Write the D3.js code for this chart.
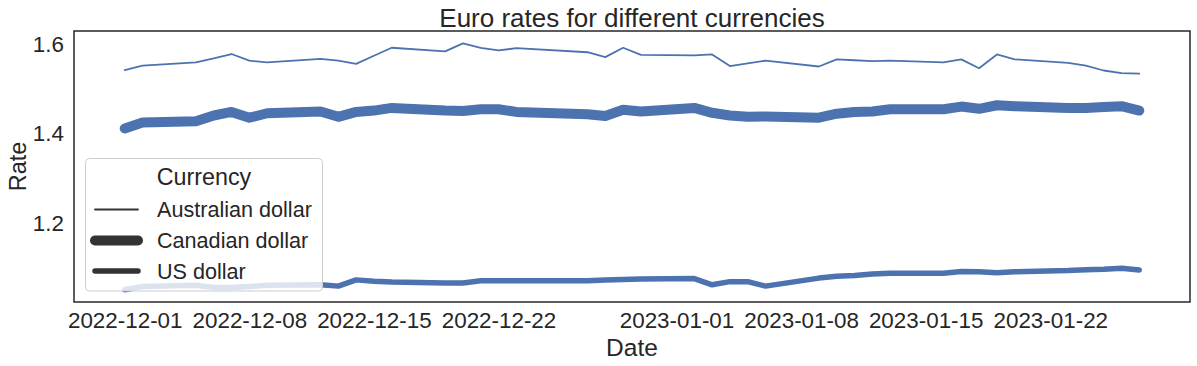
<!DOCTYPE html>
<html>
<head>
<meta charset="utf-8">
<script src="https://cdn.jsdelivr.net/npm/d3@7"></script>
<style>
  body { margin: 0; background: #fff; }
  text { font-family: "Liberation Sans", Arial, sans-serif; fill: #262626; }
</style>
</head>
<body>
<svg id="chart" width="1197" height="366"></svg>
<script>
// ECB business days, 2022-12-01 .. 2023-01-27
const dates = [
  "2022-12-01","2022-12-02","2022-12-05","2022-12-06","2022-12-07","2022-12-08","2022-12-09",
  "2022-12-12","2022-12-13","2022-12-14","2022-12-15","2022-12-16",
  "2022-12-19","2022-12-20","2022-12-21","2022-12-22","2022-12-23",
  "2022-12-27","2022-12-28","2022-12-29","2022-12-30",
  "2023-01-02","2023-01-03","2023-01-04","2023-01-05","2023-01-06",
  "2023-01-09","2023-01-10","2023-01-11","2023-01-12","2023-01-13",
  "2023-01-16","2023-01-17","2023-01-18","2023-01-19","2023-01-20",
  "2023-01-23","2023-01-24","2023-01-25","2023-01-26","2023-01-27"
];

const audRates = [
  1.543, 1.553, 1.560, 1.569, 1.579, 1.564, 1.560,
  1.568, 1.564, 1.557, 1.575, 1.593,
  1.585, 1.603, 1.593, 1.587, 1.592,
  1.583, 1.572, 1.593, 1.577,
  1.576, 1.578, 1.552, 1.558, 1.564,
  1.551, 1.567, 1.565, 1.563, 1.564,
  1.560, 1.567, 1.547, 1.578, 1.567,
  1.559, 1.553, 1.542, 1.536, 1.535
];

const cadRates = [
  1.412, 1.425, 1.428, 1.441, 1.449, 1.436, 1.446,
  1.450, 1.438, 1.449, 1.452, 1.458,
  1.452, 1.451, 1.455, 1.455, 1.449,
  1.444, 1.440, 1.454, 1.450,
  1.458, 1.447, 1.441, 1.438, 1.439,
  1.436, 1.445, 1.449, 1.450, 1.455,
  1.455, 1.461, 1.456, 1.464, 1.462,
  1.458, 1.458, 1.460, 1.462, 1.452
];

const usdRates = [
  1.050, 1.057, 1.060, 1.055, 1.055, 1.057, 1.060,
  1.061, 1.058, 1.072, 1.069, 1.067,
  1.065, 1.065, 1.070, 1.070, 1.070,
  1.070, 1.072, 1.073, 1.074,
  1.075, 1.061, 1.068, 1.068, 1.058,
  1.076, 1.080, 1.082, 1.085, 1.087,
  1.087, 1.091, 1.090, 1.088, 1.090,
  1.093, 1.095, 1.096, 1.098, 1.094
];

const currencies = ["Australian dollar", "Canadian dollar", "US dollar"];
const lineWidths = [1.8, 10, 5.5];
const xTickLabels = ["2022-12-01","2022-12-08","2022-12-15","2022-12-22",
                     "2023-01-01","2023-01-08","2023-01-15","2023-01-22"];
const yTickValues = [1.2, 1.4, 1.6];

const svg = d3.select("#chart");
const parse = d3.utcParse("%Y-%m-%d");
const plot = { left: 74, right: 1190, top: 31, bottom: 302 };
const lineColor = "#4c72b0";

const series = [audRates, cadRates, usdRates].map((vals, i) => ({
  name: currencies[i],
  width: lineWidths[i],
  points: vals.map((v, j) => ({ date: parse(dates[j]), value: v }))
}));

// matplotlib style 5% margins
const allDates = dates.map(parse);
const allVals = [].concat(audRates, cadRates, usdRates);
const [t0, t1] = d3.extent(allDates);
const tPad = (t1 - t0) * 0.05;
const [v0, v1] = d3.extent(allVals);
const vPad = (v1 - v0) * 0.05;

const x = d3.scaleUtc()
  .domain([new Date(+t0 - tPad), new Date(+t1 + tPad)])
  .range([plot.left, plot.right]);
const y = d3.scaleLinear()
  .domain([v0 - vPad, v1 + vPad])
  .range([plot.bottom, plot.top]);

// axes (no tick marks, seaborn white style)
const xAxis = svg.append("g")
  .attr("transform", `translate(0,${plot.bottom})`)
  .call(d3.axisBottom(x)
    .tickValues(xTickLabels.map(parse))
    .tickSize(0)
    .tickPadding(10)
    .tickFormat(d3.utcFormat("%Y-%m-%d")));
xAxis.select(".domain").remove();
xAxis.selectAll("text").attr("font-size", 22.4).attr("fill", "#262626");

const yAxis = svg.append("g")
  .attr("transform", `translate(${plot.left},0)`)
  .call(d3.axisLeft(y)
    .tickValues(yTickValues)
    .tickSize(0)
    .tickPadding(10)
    .tickFormat(d3.format(".1f")));
yAxis.select(".domain").remove();
yAxis.selectAll("text").attr("font-size", 22.4).attr("fill", "#262626");

svg.selectAll(".tick text").attr("font-family", "Liberation Sans, Arial, sans-serif");

// lines
const line = d3.line()
  .x(d => x(d.date))
  .y(d => y(d.value));

svg.append("g")
  .selectAll("path")
  .data(series)
  .enter()
  .append("path")
  .attr("d", d => line(d.points))
  .attr("fill", "none")
  .attr("stroke", lineColor)
  .attr("stroke-width", d => d.width)
  .attr("stroke-linecap", "round")
  .attr("stroke-linejoin", "round");

// frame
svg.append("rect")
  .attr("x", plot.left)
  .attr("y", plot.top)
  .attr("width", plot.right - plot.left)
  .attr("height", plot.bottom - plot.top)
  .attr("fill", "none")
  .attr("stroke", "#262626")
  .attr("stroke-width", 1.5);

// titles
svg.append("text")
  .attr("x", (plot.left + plot.right) / 2)
  .attr("y", 27)
  .attr("text-anchor", "middle")
  .attr("font-size", 26)
  .text("Euro rates for different currencies");

svg.append("text")
  .attr("x", (plot.left + plot.right) / 2)
  .attr("y", 356)
  .attr("text-anchor", "middle")
  .attr("font-size", 24.5)
  .text("Date");

svg.append("text")
  .attr("transform", `translate(26,${(plot.top + plot.bottom) / 2}) rotate(-90)`)
  .attr("text-anchor", "middle")
  .attr("font-size", 23.5)
  .text("Rate");

// legend
const legend = svg.append("g");
legend.append("rect")
  .attr("x", 85.5)
  .attr("y", 158.5)
  .attr("width", 237)
  .attr("height", 132.5)
  .attr("rx", 4)
  .attr("fill", "#fff")
  .attr("fill-opacity", 0.8)
  .attr("stroke", "#cccccc")
  .attr("stroke-width", 1);

legend.append("text")
  .attr("x", 204)
  .attr("y", 185)
  .attr("text-anchor", "middle")
  .attr("font-size", 23.3)
  .text("Currency");

const rowY = [209.5, 240.5, 271];
const items = legend.selectAll(".item")
  .data(series)
  .enter()
  .append("g")
  .attr("class", "item")
  .attr("transform", (d, i) => `translate(0,${rowY[i]})`);

items.append("line")
  .attr("x1", 95)
  .attr("x2", 138)
  .attr("stroke", "#333333")
  .attr("stroke-width", d => d.width)
  .attr("stroke-linecap", "round");

items.append("text")
  .attr("x", 157)
  .attr("dy", "0.35em")
  .attr("font-size", 21.6)
  .text(d => d.name);
</script>
</body>
</html>
